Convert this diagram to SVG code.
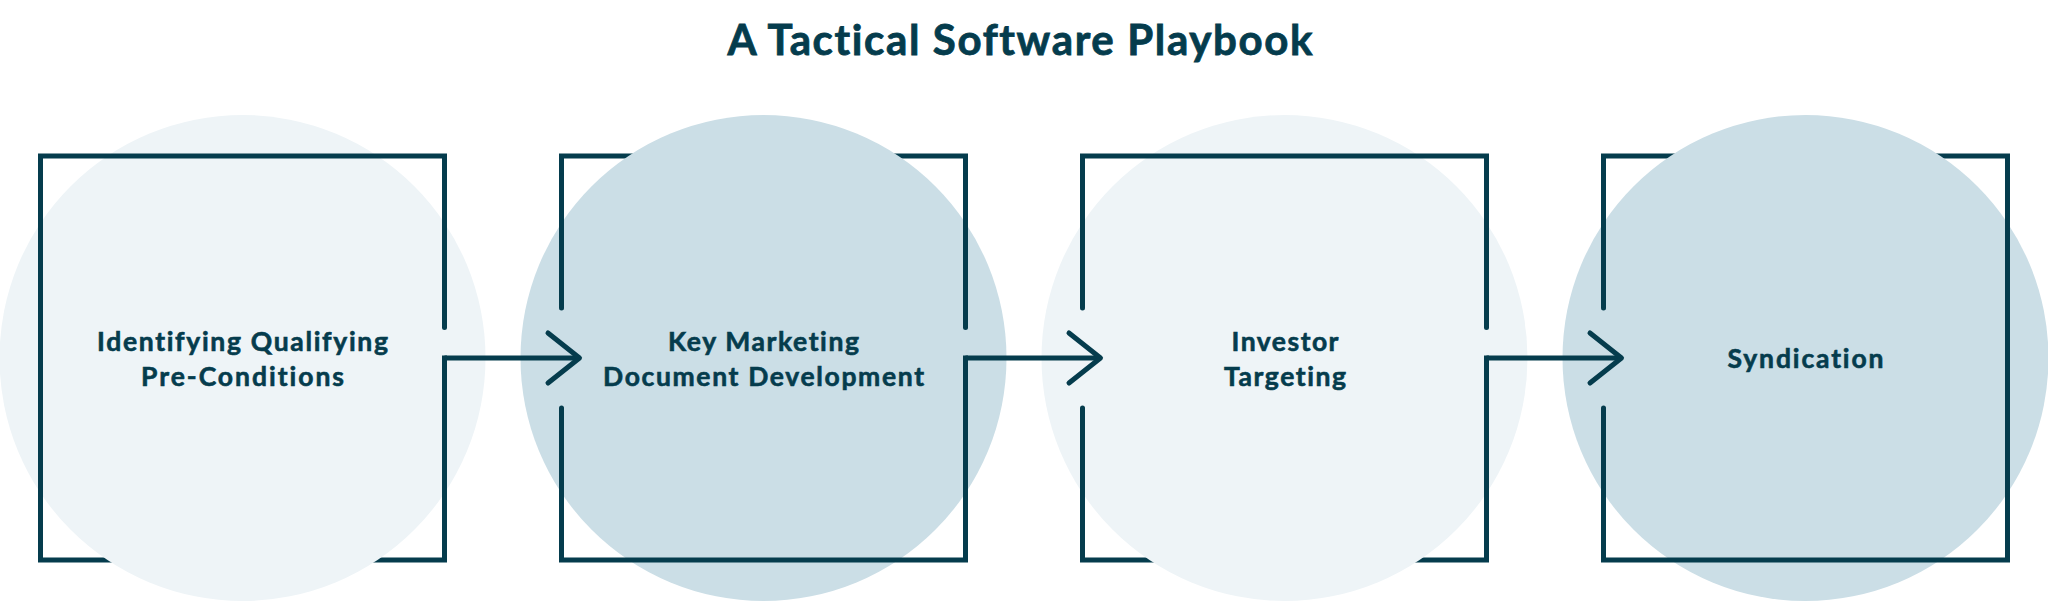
<svg xmlns="http://www.w3.org/2000/svg" width="2048" height="601" viewBox="0 0 2048 601">
<style>
.ln{fill:none;stroke:#053C4D;stroke-width:5;stroke-linejoin:miter;stroke-linecap:butt}
.rd{fill:none;stroke:#053C4D;stroke-width:5;stroke-linejoin:miter;stroke-linecap:round}
.ah{fill:none;stroke:#053C4D;stroke-width:5;stroke-linejoin:round;stroke-linecap:round}
.c1{fill:#EEF4F7}
.c2{fill:#CBDEE6}
.t{font-family:Lato,"Noto Sans","DejaVu Sans",sans-serif;font-weight:700;fill:#053C4D;stroke:#053C4D;text-anchor:middle;font-variant-ligatures:none;font-feature-settings:"liga" 0,"dlig" 0}
.lb{font-size:26.5px;stroke-width:0.6px}
.ttl{font-size:42px;stroke-width:0.8px}
</style>
<rect width="2048" height="601" fill="#FFFFFF"/>
<g id="title">
<text class="t ttl" x="1020" y="55" textLength="585" lengthAdjust="spacing">A Tactical Software Playbook</text>
</g>
<g id="node1">
<path class="ln" d="M40.5,520 V560 H444.5 V520"/>
<circle class="c1" cx="242.5" cy="358" r="243"/>
<path class="rd" d="M444.5,327.5 V156 H40.5 V540"/>
<path class="ln" d="M444.5,540 V355.5"/>
<text class="t lb" x="242.5" y="351" textLength="291" lengthAdjust="spacing">Identifying Qualifying</text>
<text class="t lb" x="242.5" y="386" textLength="203" lengthAdjust="spacing">Pre-Conditions</text>
</g>
<g id="node2">
<path class="ln" d="M561.5,196 V156 H965.5 V196"/>
<circle class="c2" cx="763.5" cy="358" r="243"/>
<path class="rd" d="M561.5,308 V176"/>
<path class="rd" d="M965.5,327.5 V176"/>
<path class="rd" d="M561.5,408 V540"/>
<path class="ln" d="M561.5,520 V560 H965.5 V355.5"/>
<text class="t lb" x="763.5" y="351" textLength="191" lengthAdjust="spacing">Key Marketing</text>
<text class="t lb" x="763.5" y="386" textLength="321" lengthAdjust="spacing">Document Development</text>
</g>
<g id="node3">
<path class="ln" d="M1082.5,520 V560 H1486.5 V520"/>
<circle class="c1" cx="1284.5" cy="358" r="243"/>
<path class="rd" d="M1082.5,308 V156 H1486.5 V327.5"/>
<path class="rd" d="M1082.5,408 V540"/>
<path class="ln" d="M1486.5,540 V355.5"/>
<text class="t lb" x="1285" y="351" textLength="107" lengthAdjust="spacing">Investor</text>
<text class="t lb" x="1285" y="386" textLength="122" lengthAdjust="spacing">Targeting</text>
</g>
<g id="node4">
<path class="ln" d="M1603.5,196 V156 H2007.5 V196"/>
<circle class="c2" cx="1805.5" cy="358" r="243"/>
<path class="rd" d="M1603.5,308 V176"/>
<path class="rd" d="M1603.5,408 V540"/>
<path class="ln" d="M1603.5,520 V560 H2007.5 V176"/>
<text class="t lb" x="1805.5" y="368" textLength="156" lengthAdjust="spacing">Syndication</text>
</g>
<g id="connectors">
<path class="ln" d="M444.5,358 H579.5"/>
<path class="ah" d="M548,333 L579.5,358 L548,383"/>
<path class="ln" d="M965.5,358 H1100.5"/>
<path class="ah" d="M1069,333 L1100.5,358 L1069,383"/>
<path class="ln" d="M1486.5,358 H1621.5"/>
<path class="ah" d="M1590,333 L1621.5,358 L1590,383"/>
</g>
</svg>
